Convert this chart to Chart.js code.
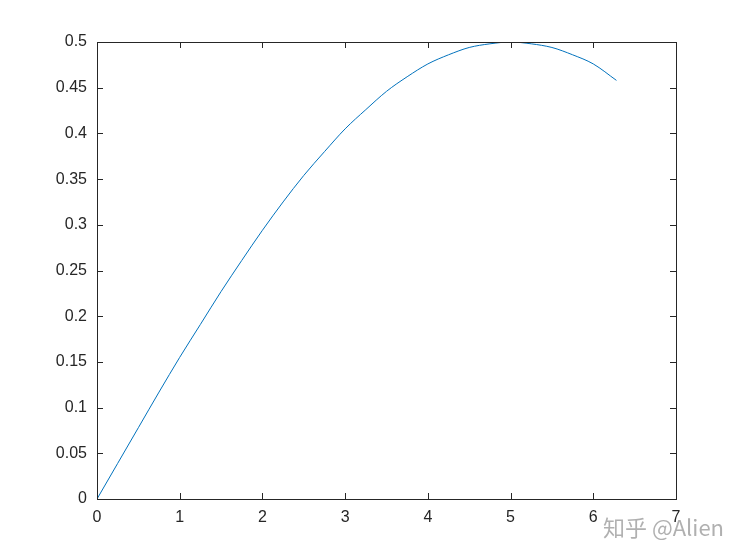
<!DOCTYPE html>
<html>
<head>
<meta charset="utf-8">
<style>
  body { margin: 0; background: #fff; }
  canvas { display: block; }
</style>
</head>
<body>
<canvas id="plot" width="746" height="560"></canvas>
<script src="https://cdn.jsdelivr.net/npm/chart.js"></script>
<script>
  // values
  const xVals = [0, 0.25, 0.5, 0.75, 1, 1.25, 1.5, 1.75, 2, 2.25, 2.5, 2.75, 3, 3.25, 3.5,
                 3.75, 4, 4.25, 4.5, 4.75, 5, 5.25, 5.5, 5.75, 6, 6.28];
  const yVals = [0, 0.039, 0.078, 0.117, 0.155, 0.191, 0.227, 0.261, 0.294, 0.325, 0.354,
                 0.380, 0.405, 0.426, 0.446, 0.462, 0.476, 0.486, 0.494, 0.498, 0.5, 0.498,
                 0.494, 0.486, 0.476, 0.458];
  const xTicks = [0, 1, 2, 3, 4, 5, 6, 7];
  const yTicks = [0, 0.05, 0.1, 0.15, 0.2, 0.25, 0.3, 0.35, 0.4, 0.45, 0.5];

  const axisColor = '#262626';
  const tickFont = { family: '"Liberation Sans", Arial, sans-serif', size: 16 };

  // matlab style box with inward ticks + watermark
  const boxPlugin = {
    id: 'box',
    afterDraw(chart) {
      const { ctx, chartArea: a, scales } = chart;
      ctx.save();
      ctx.strokeStyle = axisColor;
      ctx.lineWidth = 1;
      ctx.strokeRect(Math.round(a.left) + 0.5, Math.round(a.top) + 0.5,
                     Math.round(a.right - a.left), Math.round(a.bottom - a.top));
      ctx.beginPath();
      xTicks.forEach(v => {
        const px = Math.round(scales.x.getPixelForValue(v)) + 0.5;
        ctx.moveTo(px, a.bottom); ctx.lineTo(px, a.bottom - 6);
        ctx.moveTo(px, a.top); ctx.lineTo(px, a.top + 6);
      });
      yTicks.forEach(v => {
        const py = Math.round(scales.y.getPixelForValue(v)) + 0.5;
        ctx.moveTo(a.left, py); ctx.lineTo(a.left + 6, py);
        ctx.moveTo(a.right, py); ctx.lineTo(a.right - 6, py);
      });
      ctx.stroke();

      ctx.font = '22px "Noto Sans CJK SC", sans-serif';
      ctx.fillStyle = 'rgba(150,150,150,0.75)';
      ctx.textBaseline = 'middle';
      ctx.fillText('知乎 @Alien', 603, 528);
      ctx.restore();
    }
  };

  new Chart(document.getElementById('plot'), {
    type: 'line',
    data: {
      datasets: [{
        data: xVals.map((x, i) => ({ x: x, y: yVals[i] })),
        borderColor: '#0072BD',
        borderWidth: 1,
        pointRadius: 0,
        cubicInterpolationMode: 'monotone',
        fill: false
      }]
    },
    options: {
      responsive: false,
      animation: false,
      layout: { padding: { left: 0, top: 42, right: 70, bottom: 0 } },
      plugins: { legend: { display: false }, tooltip: { enabled: false } },
      scales: {
        x: {
          type: 'linear',
          min: 0, max: 7,
          afterBuildTicks: s => { s.ticks = xTicks.map(v => ({ value: v })); },
          afterFit: s => { s.height = 61; },
          grid: { display: false, drawTicks: false },
          border: { display: false },
          ticks: { color: axisColor, font: tickFont, padding: 9 }
        },
        y: {
          min: 0, max: 0.5,
          afterBuildTicks: s => { s.ticks = yTicks.map(v => ({ value: v })); },
          afterFit: s => { s.width = 97; },
          grid: { display: false, drawTicks: false },
          border: { display: false },
          ticks: { color: axisColor, font: tickFont, padding: 10,
                   callback: v => String(+v.toFixed(2)) }
        }
      }
    },
    plugins: [boxPlugin]
  });
</script>
</body>
</html>
